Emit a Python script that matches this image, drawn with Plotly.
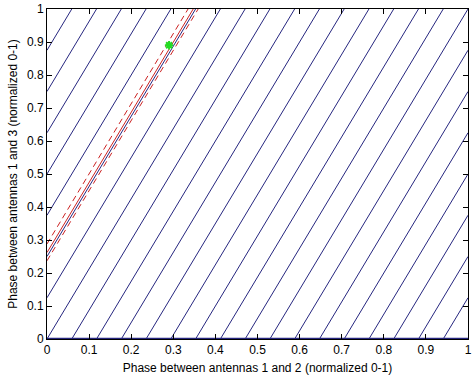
import numpy as np
import plotly.graph_objects as go

# Ambiguity lines: 17*x - 8*y = k
slope_num = 17
slope_den = 8
k_values = list(range(-7, 18))

# Red candidate band (y-intercepts at x=0)
red_intercepts = [0.237, 0.262, 0.288]
red_styles = ["dash", "solid", "dash"]

# Measured point
point_x = [0.29]
point_y = [0.89]

tick_vals = [0, 0.1, 0.2, 0.3, 0.4, 0.5, 0.6, 0.7, 0.8, 0.9, 1]
tick_text = ["0", "0.1", "0.2", "0.3", "0.4", "0.5", "0.6", "0.7", "0.8", "0.9", "1"]

blue = "#26267f"
fig = go.Figure()
xs = np.linspace(0, 1, 201)
slope = slope_num / slope_den
for k in k_values:
    ys = (slope_num * xs - k) / slope_den
    fig.add_trace(go.Scatter(x=xs, y=ys, mode="lines",
                             line=dict(color=blue, width=1), hoverinfo="skip"))
# horizontal line along y=0
fig.add_trace(go.Scatter(x=[0, 1], y=[0, 0], mode="lines",
                         line=dict(color=blue, width=2.5), cliponaxis=False))
for b, st in zip(red_intercepts, red_styles):
    ys = b + slope * xs
    fig.add_trace(go.Scatter(x=xs, y=ys, mode="lines",
                             line=dict(color="#cc2222", width=1, dash=st if st == "solid" else "6px,4px")))
fig.add_trace(go.Scatter(x=point_x, y=point_y, mode="markers",
                         marker=dict(symbol="asterisk-open", size=7, color="#22dd22",
                                     line=dict(color="#22dd22", width=2))))

font = dict(family="Liberation Sans, Arial", size=12, color="black")
axis_common = dict(range=[0, 1], tickvals=tick_vals, ticktext=tick_text,
                   ticks="inside", ticklen=5, tickcolor="black", mirror="ticks",
                   showline=True, linecolor="black", linewidth=1, showgrid=False,
                   zeroline=False, tickfont=font, automargin=False)
fig.update_xaxes(**axis_common,
                 title=dict(text="Phase between antennas 1 and 2 (normalized 0-1)",
                            font=font, standoff=7))
fig.update_yaxes(**axis_common,
                 title=dict(text="Phase between antennas 1 and 3 (normalized 0-1)",
                            font=font, standoff=6))
fig.update_layout(width=474, height=380, showlegend=False,
                  margin=dict(l=47, r=6, t=9, b=41),
                  paper_bgcolor="white", plot_bgcolor="white")
fig.write_html("out.html", config={"displayModeBar": False},
               post_script="document.body.style.margin='0';document.body.style.padding='0';")
